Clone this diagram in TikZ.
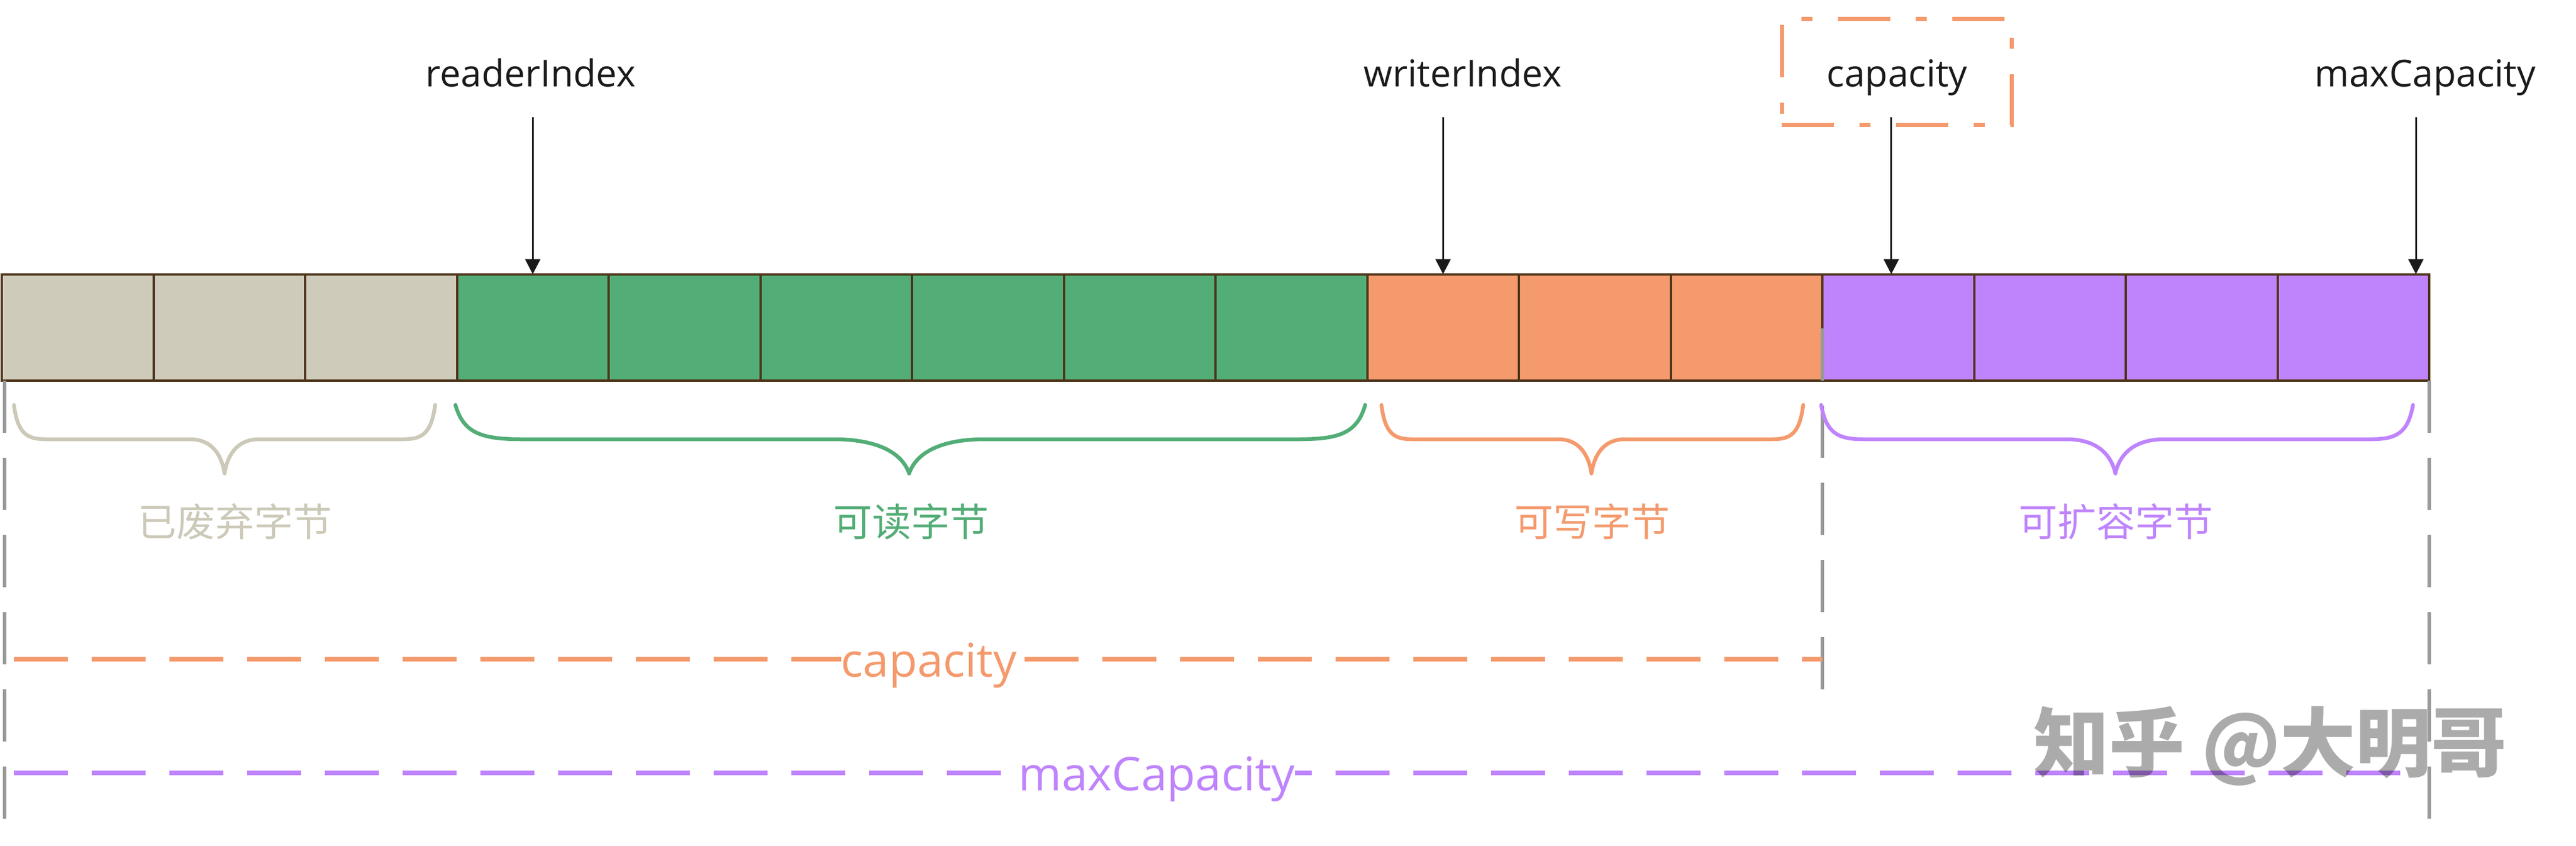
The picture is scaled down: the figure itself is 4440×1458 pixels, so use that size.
\documentclass[tikz,border=0pt]{standalone}
\usepackage{fontspec}
\setmainfont{Open Sans}
\newfontfamily\cjk{Noto Sans CJK SC}
\usetikzlibrary{arrows.meta}
\definecolor{cgrey}{HTML}{CFCBBA}
\definecolor{cgreen}{HTML}{52AD76}
\definecolor{corange}{HTML}{F49A6D}
\definecolor{cpurple}{HTML}{BF84FC}
\definecolor{cborder}{HTML}{4D3319}
\definecolor{cgreytext}{HTML}{CCC9B8}
\definecolor{cline}{HTML}{999999}
\definecolor{clabel}{HTML}{1A1A1A}
\newcommand\drawmybrace[6]{%
  \draw[brace,#1] (#2,698) .. controls (#2+0.12*#5,747) and (#2+0.4*#5,757) .. (#2+#5,757)
    -- (#4-#6,757) .. controls (#4-0.45*#6,757) and (#4-0.1*#6,778) .. (#4,816)
    .. controls (#4+0.1*#6,778) and (#4+0.45*#6,757) .. (#4+#6,757)
    -- (#3-#5,757) .. controls (#3-0.4*#5,757) and (#3-0.12*#5,747) .. (#3,698);}
\begin{document}
\begin{tikzpicture}[x=1pt,y=-1pt,
  cell/.style={draw=cborder, line width=4pt, minimum width=261.5pt, minimum height=183.5pt, inner sep=0pt, outer sep=0pt},
  toplabel/.style={font=\fontsize{64}{70}\selectfont, text=clabel, anchor=base, inner sep=0pt},
  ptr/.style={line width=3pt, clabel, -{Triangle[length=26pt,width=26pt]}},
  brace/.style={line width=6.5pt, line cap=round, line join=round},
  secl/.style={font=\cjk\fontsize{67}{72}\selectfont, anchor=base, inner sep=0pt},
  vdash/.style={cline, line width=6pt, dash pattern=on 90pt off 43pt},
  hdash/.style={line width=8pt, dash pattern=on 92.5pt off 41.5pt},
  biglabel/.style={font=\fontsize{80}{88}\selectfont, anchor=base, fill=white, inner sep=0pt},
  boxdash/.style={draw=corange, line width=7pt, dash pattern=on 90pt off 44pt on 19pt off 44pt, minimum width=396pt, minimum height=183pt, inner sep=0pt},
]
\useasboundingbox (0,0) rectangle (4440,1458);
\fill[white] (0,0) rectangle (4440,1458);

% cells
\foreach \i/\col in {0/cgrey,1/cgrey,2/cgrey,3/cgreen,4/cgreen,5/cgreen,6/cgreen,7/cgreen,8/cgreen,9/corange,10/corange,11/corange,12/cpurple,13/cpurple,14/cpurple,15/cpurple}
  \node[cell, fill=\col] (c\i) at ({3+261.5*\i+130.75},564.25) {};

% top labels
\node[toplabel] (rl) at (915,150) {readerIndex};
\node[toplabel] (wl) at (2521,150) {writerIndex};
\node[toplabel] (cl) at (3270,150) {capacity};
\node[toplabel] (ml) at (4180,150) {maxCapacity};
\node[boxdash] (capbox) at (3269,124.5) {};

% arrows
\coordinate (rtip) at (c3.north);
\coordinate (rstart) at (rtip |- 0,202);
\coordinate (wtip) at (c9.north);
\coordinate (wstart) at (wtip |- 0,202);
\coordinate (ctip) at ([xshift=-12pt]c12.north);
\coordinate (cstart) at (ctip |- 0,202);
\coordinate (mtip) at ([xshift=-23pt]c15.north east);
\coordinate (mstart) at (mtip |- 0,202);
\draw[ptr] (rstart) -- (rtip);
\draw[ptr] (wstart) -- (wtip);
\draw[ptr] (cstart) -- (ctip);
\draw[ptr] (mstart) -- (mtip);

% vertical grey dashed lines
\coordinate (v1a) at (8,656);
\coordinate (v1b) at (8,1414);
\coordinate (v2a) at (c12.north west |- 0,566);
\coordinate (v2b) at (c12.north west |- 0,1188);
\coordinate (v3a) at (c15.south east);
\coordinate (v3b) at (c15.south east |- 0,1414);
\draw[vdash] (v1a) -- (v1b);
\draw[vdash] (v2a) -- (v2b);
\draw[vdash] (v3a) -- (v3b);

% braces
\drawmybrace{cgreytext}{24}{750}{387}{55}{59}
\drawmybrace{cgreen}{785}{2353}{1567}{115}{130}
\drawmybrace{corange}{2381}{3108}{2743}{53}{57}
\drawmybrace{cpurple}{3139}{4159}{3646}{73}{84}

% section labels
\node[secl, text=cgreytext] (s1) at (405,924) {已废弃字节};
\node[secl, text=cgreen] (s2) at (1570,924) {可读字节};
\node[secl, text=corange] (s3) at (2744,924) {可写字节};
\node[secl, text=cpurple] (s4) at (3647,924) {可扩容字节};

% capacity / maxCapacity lines
\coordinate (oa) at (24,1136);
\coordinate (ob) at (v2a |- 0,1136);
\draw[hdash, corange] (oa) -- (ob);
\node[biglabel, text=corange] (capl) at (1601,1166) {capacity};
\coordinate (pa) at (24,1332);
\coordinate (pb) at (4150,1332);
\draw[hdash, cpurple] (pa) -- (pb);
\node[biglabel, text=cpurple] (maxl) at (1994,1362) {maxCapacity};

% watermark
\node[anchor=base, inner sep=0pt, font=\cjk\bfseries\fontsize{130}{140}\selectfont, text=black, text opacity=0.33] (wm) at (3913,1328) {知乎 @大明哥};
\end{tikzpicture}
\end{document}
